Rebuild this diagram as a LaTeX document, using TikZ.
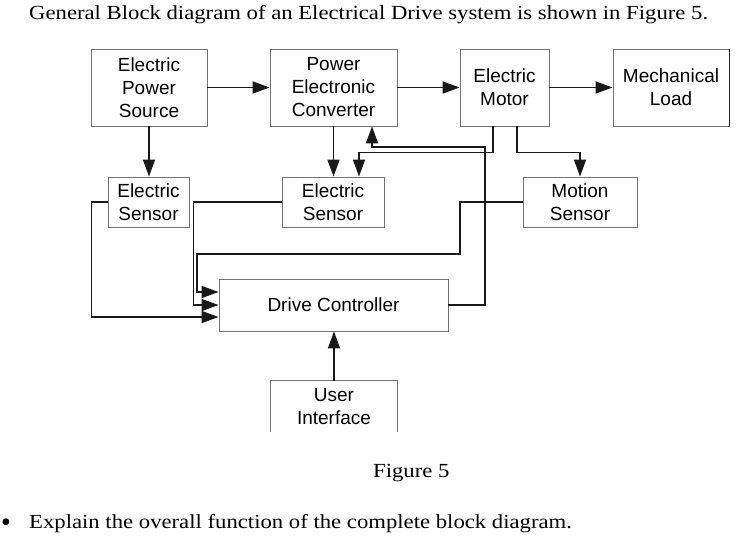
\documentclass[tikz,border=0pt]{standalone}
\usepackage{fontspec}
\setmainfont{Liberation Serif}
\newfontfamily\widesf[FakeStretch=1.135]{Liberation Serif}
\newfontfamily\arialfont{Liberation Sans}
\usetikzlibrary{arrows.meta}
\tikzset{
  blk/.style={draw=black!55, line width=0.9pt, inner sep=0pt, align=center,
    font=\arialfont\fontsize{19}{23}\selectfont, text=black},
  arr/.style={line width=1.6pt, black!90, -{Triangle[length=17pt,width=12pt]}},
  serif/.style={font=\widesf\fontsize{20}{22}\selectfont, inner sep=0pt, anchor=base west}
}
\begin{document}
\begin{tikzpicture}[x=1pt,y=-1pt]
\useasboundingbox (0,0) rectangle (736,537);
\fill[white] (0,0) rectangle (736,537);
\node[serif] (title) at (29,20) {General Block diagram of an Electrical Drive system is shown in Figure 5.};
\node[serif] (fig) at (373,477) {Figure 5};
\node[serif, font=\fontsize{28}{28}\selectfont] (bul) at (1,531) {•};
\node[serif] (q) at (29,528) {Explain the overall function of the complete block diagram.};

\node[blk, minimum width=116pt, minimum height=77pt] (eps) at (149,87.5) {Electric\\Power\\Source};
\node[blk, minimum width=127pt, minimum height=77pt] (pec) at (333.5,87.5) {Power\\Electronic\\Converter};
\node[blk, minimum width=89pt, minimum height=77pt] (mot) at (504.5,87.5) {Electric\\Motor};
\node[blk, minimum width=116pt, minimum height=77pt] (load) at (671,87.5) {Mechanical\\Load};
\draw[line width=1.4pt, black!85] (load.north east) -- (load.south east);
\node[blk, minimum width=81pt, minimum height=50pt] (es1) at (148.5,202) {Electric\\Sensor};
\node[blk, minimum width=102pt, minimum height=50pt] (es2) at (333,202) {Electric\\Sensor};
\node[blk, minimum width=114pt, minimum height=50pt] (ms) at (580,202) {Motion\\Sensor};
\node[blk, minimum width=229pt, minimum height=52pt] (dc) at (333.5,305) {Drive Controller};
\node[blk, draw=none, minimum width=126pt, minimum height=51pt] (ui) at (334,406.5) {User\\Interface};
\draw[draw=black!55, line width=0.9pt] (ui.south west) -- (ui.north west) -- (ui.north east) -- (ui.south east);

% main chain
\draw[arr] (eps.east) -- (pec.west);
\draw[arr] (pec.east) -- (mot.west);
\draw[arr] (mot.east) -- (load.west);
% down to sensors
\draw[arr] (eps.south) -- (eps.south |- es1.north);
\draw[arr] (pec.south) -- (pec.south |- es2.north);
\draw[arr] ([xshift=-11.5pt]mot.south) -- ++(0,26) -| ([xshift=26pt]es2.north);
\draw[arr] ([xshift=12.5pt]mot.south) -- ++(0,26) -| (ms.north);
% controller to converter
\coordinate (c1) at (485,147);
\draw[arr] (dc.east) -| (c1) -| ([xshift=38.5pt]pec.south);
% sensors to controller
\draw[arr] (es1.west) -- ++(-16,0) |- ([yshift=-12pt]dc.west);
\draw[arr] (es2.west) -- ++(-88,0) |- (dc.west);
\coordinate (c2) at (460,254);
\coordinate (c3) at (197,254);
\draw[arr] (ms.west) -| (c2) -- (c3) |- ([yshift=13pt]dc.west);
% user interface
\draw[arr] (ui.north) -- (ui.north |- dc.south);
\end{tikzpicture}
\end{document}
